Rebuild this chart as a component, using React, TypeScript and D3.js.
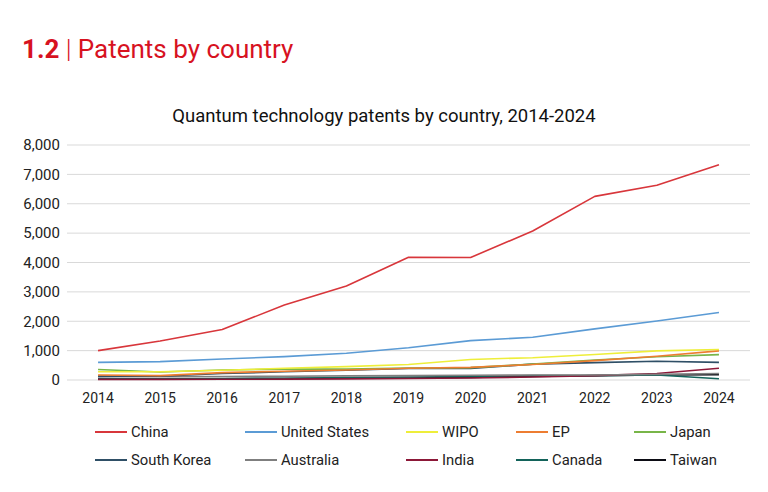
import React, { useEffect, useRef } from "react";
import * as d3 from "d3";

const years = ["2014", "2015", "2016", "2017", "2018", "2019", "2020", "2021", "2022", "2023", "2024"];
const yTicks = [0, 1000, 2000, 3000, 4000, 5000, 6000, 7000, 8000];

const countries = ["China", "United States", "WIPO", "EP", "Japan", "South Korea", "Australia", "India", "Canada", "Taiwan"];
const colors = ["#d8363b", "#5b9bd5", "#eeee3a", "#ed7d31", "#78b548", "#2f4f66", "#7f7f7f", "#8c1838", "#13635a", "#0c0c14"];

const china = [1000, 1330, 1720, 2550, 3200, 4180, 4170, 5070, 6250, 6630, 7330];
const unitedStates = [600, 625, 715, 795, 910, 1100, 1340, 1455, 1740, 2010, 2300];
const wipo = [280, 280, 330, 400, 455, 530, 700, 760, 870, 990, 1040];
const ep = [170, 150, 250, 300, 340, 400, 430, 530, 660, 810, 990];
const japan = [360, 270, 340, 370, 370, 410, 420, 540, 680, 790, 865];
const southKorea = [110, 130, 220, 280, 330, 390, 390, 540, 590, 640, 600];
const australia = [140, 110, 120, 130, 140, 150, 160, 170, 170, 190, 220];
const india = [20, 20, 25, 30, 40, 50, 70, 100, 150, 220, 400];
const canada = [40, 40, 50, 60, 80, 100, 120, 150, 150, 170, 40];
const taiwan = [30, 35, 40, 50, 60, 70, 90, 120, 150, 170, 180];

const series = [china, unitedStates, wipo, ep, japan, southKorea, australia, india, canada, taiwan];

const FONT = "Roboto, 'Noto Sans', sans-serif";

function PatentChart() {
  const ref = useRef<SVGSVGElement>(null);

  useEffect(() => {
    const svg = d3.select(ref.current);
    svg.selectAll("*").remove();

    // heading
    const head = svg.append("text").attr("x", 22).attr("y", 58)
      .attr("font-family", FONT).attr("font-size", 26).attr("fill", "#d7121f");
    head.append("tspan").attr("font-weight", 700).text("1.2");
    head.append("tspan").attr("font-weight", 300).text(" | ");
    head.append("tspan").text("Patents by country");

    svg.append("text").attr("x", 384).attr("y", 122).attr("text-anchor", "middle")
      .attr("font-family", FONT).attr("font-size", 18.5).attr("fill", "#111")
      .text("Quantum technology patents by country, 2014-2024");

    const x = d3.scalePoint<string>().domain(years).range([67, 750]).padding(0.5);
    const y = d3.scaleLinear().domain([0, 8000]).range([380, 145]);

    const grid = svg.append("g");
    grid.selectAll("line").data(yTicks).join("line")
      .attr("x1", 67).attr("x2", 750)
      .attr("y1", d => y(d)).attr("y2", d => y(d))
      .attr("stroke", "#d9d9d9").attr("stroke-width", 1);

    svg.append("g").selectAll("text").data(yTicks).join("text")
      .attr("x", 60).attr("y", d => y(d)).attr("dy", "0.35em").attr("text-anchor", "end")
      .attr("font-family", FONT).attr("font-size", 15).attr("fill", "#222")
      .text(d => d3.format(",")(d));

    svg.append("g").selectAll("text").data(years).join("text")
      .attr("x", d => x(d)!).attr("y", 403).attr("text-anchor", "middle")
      .attr("font-family", FONT).attr("font-size", 14).attr("fill", "#222")
      .text(d => d);

    const line = d3.line<number>().x((_, i) => x(years[i])!).y(d => y(d));

    // draw low series first so China/US sit on top
    const order = d3.range(series.length).reverse();
    svg.append("g").selectAll("path").data(order).join("path")
      .attr("d", i => line(series[i]))
      .attr("fill", "none").attr("stroke", i => colors[i]).attr("stroke-width", 1.6)
      .attr("stroke-linejoin", "round");

    const colX = [95, 245, 406, 516, 634];
    const rowY = [432, 460];
    const legend = svg.append("g").selectAll("g").data(countries).join("g")
      .attr("transform", (_, i) => `translate(${colX[i % 5]},${rowY[Math.floor(i / 5)]})`);
    legend.append("line").attr("x1", 0).attr("x2", 32).attr("y1", 0).attr("y2", 0)
      .attr("stroke", (_, i) => colors[i]).attr("stroke-width", 2);
    legend.append("text").attr("x", 36).attr("dy", "0.35em")
      .attr("font-family", FONT).attr("font-size", 14.8).attr("fill", "#222")
      .text(d => d);
  }, []);

  return <svg ref={ref} width={768} height={492} style={{ display: "block", background: "#fff" }} />;
}

export default function App() {
  return (
    <div style={{ margin: -8, width: 768, height: 492, overflow: "hidden", background: "#fff" }}>
      <PatentChart />
    </div>
  );
}
